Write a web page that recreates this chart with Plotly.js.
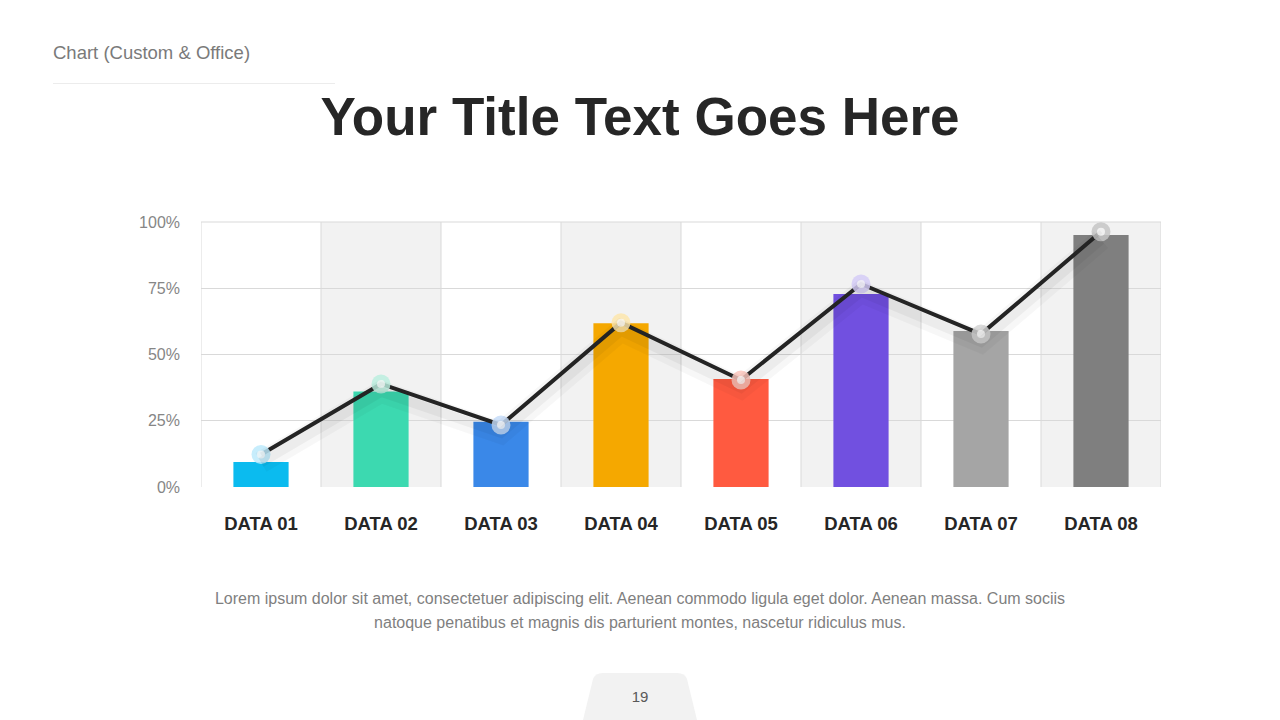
<!DOCTYPE html>
<html>
<head>
<meta charset="utf-8">
<script src="https://cdn.plot.ly/plotly-3.0.1.min.js"></script>
<style>
  html, body { margin: 0; padding: 0; background: #fff; }
  body { width: 1280px; height: 720px; position: relative; overflow: hidden;
         font-family: "Liberation Sans", Arial, sans-serif; }
  #chart { position: absolute; left: 0; top: 0; width: 1280px; height: 720px; }
  .kicker { position: absolute; left: 53px; top: 42px; font-size: 18.5px; color: #7a7a7a; }
  .rule { position: absolute; left: 53px; top: 83px; width: 282px; height: 1px; background: #ececec; }
  .title { position: absolute; left: 0; width: 1280px; top: 86px; text-align: center;
           font-size: 53px; font-weight: bold; color: #262626; }
  .caption { position: absolute; left: 0; width: 1280px; top: 587px; text-align: center;
             font-size: 16px; line-height: 24px; color: #7f7f7f; }
  .tab { position: absolute; left: 583px; top: 673px; width: 114px; height: 47px; }
  .pnum { position: absolute; left: 583px; width: 114px; top: 688px; text-align: center;
          font-size: 15px; color: #595959; }
</style>
</head>
<body>
<div class="kicker">Chart (Custom &amp; Office)</div>
<div class="rule"></div>
<div class="title">Your Title Text Goes Here</div>
<div id="chart"></div>
<div class="caption">Lorem ipsum dolor sit amet, consectetuer adipiscing elit. Aenean commodo ligula eget dolor. Aenean massa. Cum sociis<br>natoque penatibus et magnis dis parturient montes, nascetur ridiculus mus.</div>
<svg class="tab" viewBox="0 0 114 47">
  <path d="M0 47 L10 6 Q12 0 20 0 L94 0 Q102 0 104 6 L114 47 Z" fill="#f2f2f2"/>
</svg>
<div class="pnum">19</div>
<script>
  // categories and values (percent)
  const categories = ["DATA 01", "DATA 02", "DATA 03", "DATA 04", "DATA 05", "DATA 06", "DATA 07", "DATA 08"];
  const barValues  = [9.4, 36, 24.6, 61.8, 40.8, 72.8, 58.9, 95.1];
  const lineValues = [12.3, 38.9, 23.4, 62, 40.4, 76.6, 57.7, 96.3];
  const yTicks     = [0, 25, 50, 75, 100];
  const yTickText  = ["0%", "25%", "50%", "75%", "100%"];

  // bar fills and the pale halo used for each line marker
  const barColors  = ["#0bbbef", "#3cd9b0", "#3a88e8", "#f5a800", "#ff5a40", "#7150e0", "#a5a5a5", "#7f7f7f"];
  const haloColors = ["#bdeafb", "#bcefdf", "#c6dcf8", "#fde6ad", "#fcc7bd", "#d5cdf7", "#d3d3d3", "#c6c6c6"];

  const FONT = "Liberation Sans, Arial, sans-serif";

  // alternating column bands + vertical separators + top border
  const shapes = [];
  categories.forEach((_, i) => {
    if (i % 2 === 1) {
      shapes.push({ type: "rect", xref: "x", yref: "paper", x0: i - 0.5, x1: i + 0.5, y0: 0, y1: 1,
                    fillcolor: "#f2f2f2", line: { width: 0 }, layer: "below" });
    }
  });
  for (let i = 0; i <= categories.length; i++) {
    shapes.push({ type: "line", xref: "x", yref: "paper", x0: i - 0.5, x1: i - 0.5, y0: 0, y1: 1,
                  line: { color: "#d9d9d9", width: 1 }, layer: "below" });
  }
  shapes.push({ type: "line", xref: "paper", yref: "paper", x0: 0, x1: 1, y0: 1, y1: 1,
                line: { color: "#d9d9d9", width: 1 }, layer: "below" });

  const traces = [
    {
      type: "bar", x: categories, y: barValues, width: 0.46,
      marker: { color: barColors, line: { width: 0 } },
      hoverinfo: "skip",
    },
    // soft shadow under the line (drawn on a slightly shifted axis)
    {
      type: "scatter", mode: "lines", x: categories, y: lineValues, yaxis: "y2",
      line: { color: "rgba(0,0,0,0.03)", width: 22 }, hoverinfo: "skip",
    },
    {
      type: "scatter", mode: "lines", x: categories, y: lineValues, yaxis: "y2",
      line: { color: "rgba(0,0,0,0.045)", width: 10 }, hoverinfo: "skip",
    },
    {
      type: "scatter", mode: "lines", x: categories, y: lineValues,
      line: { color: "#262626", width: 4 }, hoverinfo: "skip",
    },
    {
      type: "scatter", mode: "markers", x: categories, y: lineValues,
      marker: { size: 19, color: haloColors, opacity: 0.85, line: { width: 0 } },
      hoverinfo: "skip",
    },
    {
      type: "scatter", mode: "markers", x: categories, y: lineValues,
      marker: { size: 8, color: "rgba(255,255,255,0.7)", line: { width: 0 } },
      hovertemplate: "%{x}: %{y:.1f}%<extra></extra>",
    },
  ];

  const layout = {
    width: 1280, height: 720,
    margin: { l: 201, r: 119, t: 222, b: 233 },
    paper_bgcolor: "rgba(0,0,0,0)",
    plot_bgcolor: "#ffffff",
    showlegend: false,
    font: { family: FONT, color: "#7f7f7f" },
    xaxis: {
      type: "category",
      range: [-0.5, categories.length - 0.5],
      showgrid: false, zeroline: false, showline: false, ticks: "",
      tickfont: { family: FONT, size: 18.5, color: "#262626", weight: "bold" },
      ticklabelstandoff: 23,
      fixedrange: true,
    },
    yaxis: {
      range: [0, 100],
      tickvals: yTicks, ticktext: yTickText,
      showgrid: true, gridcolor: "#d9d9d9", gridwidth: 1,
      zeroline: false, showline: false, ticks: "",
      tickfont: { family: FONT, size: 16, color: "#868686" },
      ticklabelstandoff: 20,
      fixedrange: true,
    },
    yaxis2: {
      overlaying: "y", range: [3, 103], visible: false, fixedrange: true,
    },
    shapes,
  };

  Plotly.newPlot("chart", traces, layout, { displayModeBar: false, staticPlot: true });
</script>
</body>
</html>
